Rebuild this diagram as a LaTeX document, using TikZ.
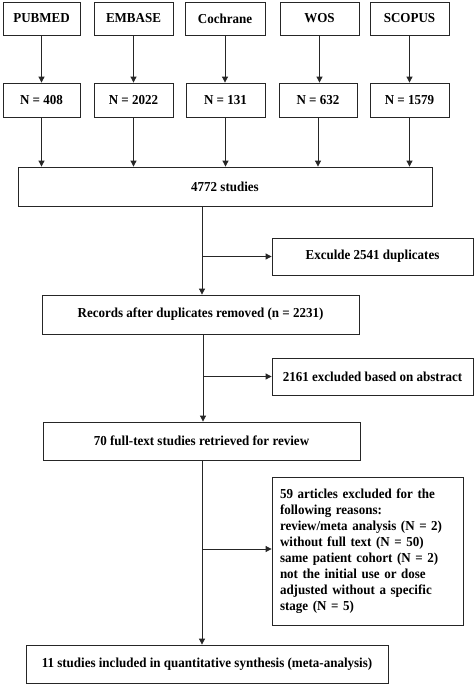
\documentclass[tikz,border=0pt]{standalone}
\usepackage{fontspec}
\setmainfont[FakeStretch=0.95]{Liberation Serif}
\usetikzlibrary{arrows.meta}
\begin{document}
\begin{tikzpicture}[x=1pt,y=-1pt,
  box/.style={draw=black!85, line width=0.8pt, inner sep=0pt, font=\fontsize{13.7}{16}\selectfont\bfseries},
  arr/.style={draw=black!85, line width=0.8pt, -{Triangle[length=6pt,width=6pt]}},
  lin/.style={draw=black!85, line width=0.8pt}]
\useasboundingbox (0,0) rectangle (475,685);
% sources
\node[box, minimum width=77pt, minimum height=33pt] (s1) at (41.5,18.5) {PUBMED};
\node[box, minimum width=79pt, minimum height=33pt] (s2) at (133.5,18.5) {EMBASE};
\node[box, minimum width=80pt, minimum height=33pt] (s3) at (225,18.5) {Cochrane};
\node[box, minimum width=79pt, minimum height=33pt] (s4) at (319.5,18.5) {WOS};
\node[box, minimum width=79pt, minimum height=33pt] (s5) at (409.5,18.5) {SCOPUS};
% counts
\node[box, minimum width=77pt, minimum height=34pt] (n1) at (41.5,100) {N = 408};
\node[box, minimum width=79pt, minimum height=34pt] (n2) at (133.5,100) {N = 2022};
\node[box, minimum width=79pt, minimum height=34pt] (n3) at (225.5,100) {N = 131};
\node[box, minimum width=78pt, minimum height=34pt] (n4) at (318,100) {N = 632};
\node[box, minimum width=79pt, minimum height=34pt] (n5) at (409.5,100) {N = 1579};
% main chain
\node[box, minimum width=414pt, minimum height=39pt] (tot) at (225,186.5) {4772 studies};
\node[box, minimum width=201pt, minimum height=37pt] (ex1) at (372.5,256.5) {Exculde 2541 duplicates};
\node[box, minimum width=317pt, minimum height=39pt] (rec) at (200.5,314.5) {Records after duplicates removed (n = 2231)};
\node[box, minimum width=201pt, minimum height=37pt] (ex2) at (372.5,376.5) {2161 excluded based on abstract};
\node[box, minimum width=317pt, minimum height=38pt] (ft) at (201.5,441) {70 full-text studies retrieved for review};
\node[box, minimum width=191pt, minimum height=148pt, text width=175pt, align=left, inner xsep=8pt] (ex3) at (367.5,551) {59 articles excluded for the\\following reasons:\\review/meta analysis (N = 2)\\without full text (N = 50)\\same patient cohort (N = 2)\\not the initial use or dose\\adjusted without a specific\\stage (N = 5)};
\node[box, minimum width=362pt, minimum height=38pt] (fin) at (207,664) {11 studies included in quantitative synthesis (meta-analysis)};
% junctions
\coordinate (j1) at (202,256.5);
\coordinate (j2) at (203,376.5);
\coordinate (j3) at (202,549);
% arrows top
\foreach \i in {1,...,5} {
  \draw[arr] (s\i.south) -- (s\i.south |- n\i.north);
  \draw[arr] (n\i.south) -- (n\i.south |- tot.north);
}
\draw[arr] (j1 |- tot.south) -- (j1 |- rec.north);
\draw[arr] (j1) -- (ex1.west);
\draw[arr] (j2 |- rec.south) -- (j2 |- ft.north);
\draw[arr] (j2) -- (ex2.west);
\draw[arr] (j3 |- ft.south) -- (j3 |- fin.north);
\draw[arr] (j3) -- (j3 -| ex3.west);
\end{tikzpicture}
\end{document}
